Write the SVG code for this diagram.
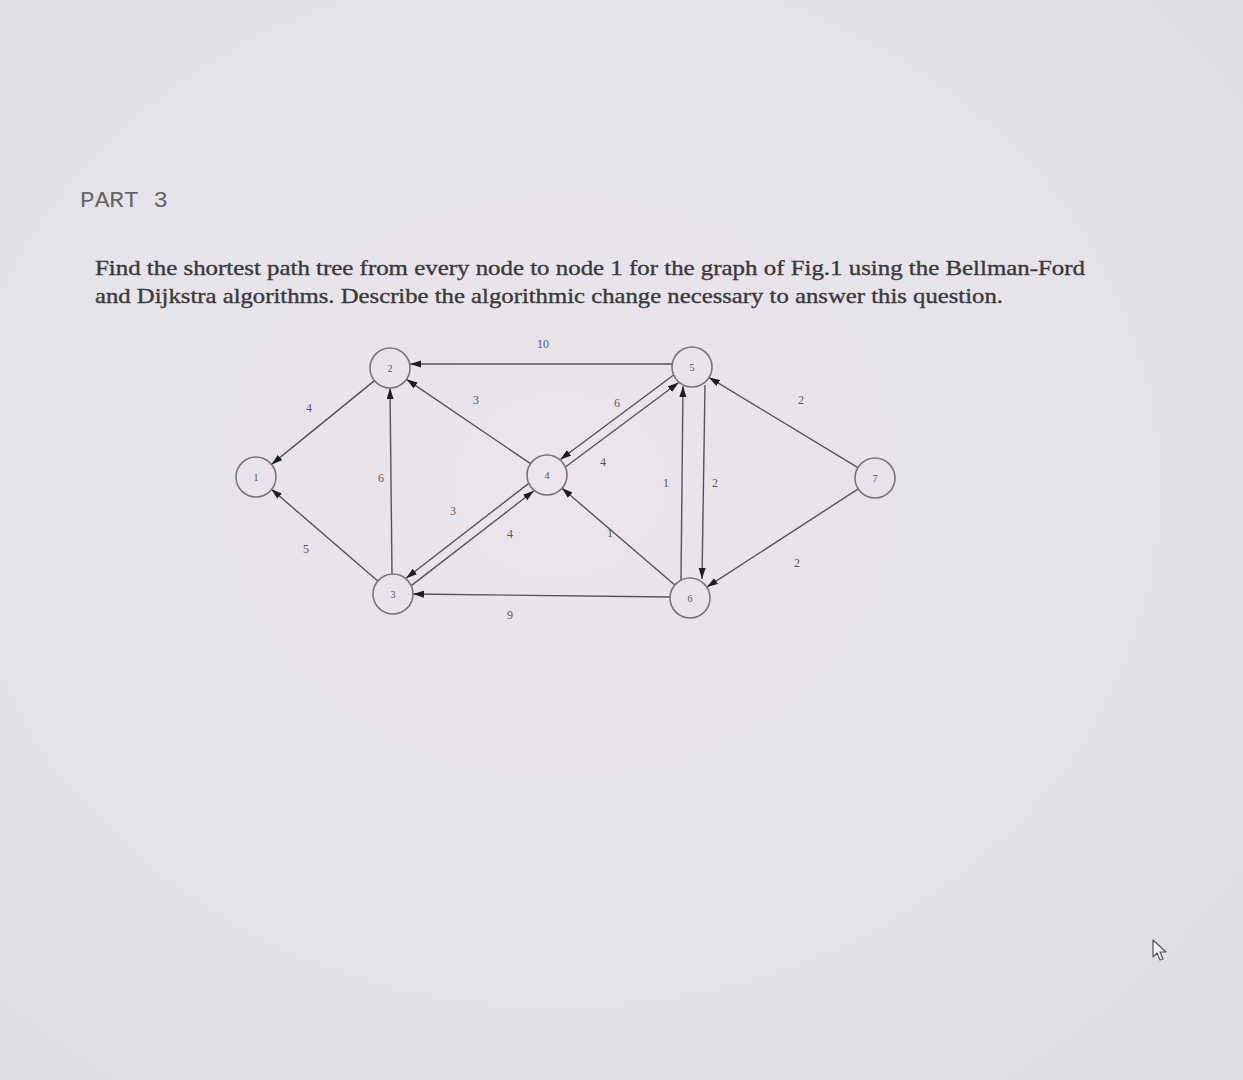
<svg xmlns="http://www.w3.org/2000/svg" width="1243" height="1080" viewBox="0 0 1243 1080">
  <defs>
    <radialGradient id="bg" cx="0.45" cy="0.45" r="0.7">
      <stop offset="0" stop-color="#ebe5ec"/>
      <stop offset="0.6" stop-color="#e6e3ea"/>
      <stop offset="1" stop-color="#dddde2"/>
    </radialGradient>
    <marker id="ah" markerUnits="userSpaceOnUse" markerWidth="12" markerHeight="8" refX="11" refY="3.5" orient="auto">
      <path d="M0,0 L11,3.5 L0,7 z" fill="#1e1e1e"/>
    </marker>
    <style>
      .e { stroke:#555; stroke-width:1.4; fill:none; marker-end:url(#ah); }
      .n circle { fill:none; stroke:#777; stroke-width:1.6; }
      .n text { font-family:"Liberation Serif",serif; font-size:10px; fill:#555; text-anchor:middle; }
      .w { font-family:"Liberation Serif",serif; font-size:12px; fill:#5a5a5a; text-anchor:middle; }
      .body { font-family:"Liberation Serif",serif; font-size:21px; fill:#3a3a3a; stroke:#3a3a3a; stroke-width:0.35; }
    </style>
  </defs>
  <rect x="0" y="0" width="1243" height="1080" fill="url(#bg)"/>

  <text x="80" y="207" font-family="Liberation Mono, monospace" font-size="22" fill="#666" textLength="88" lengthAdjust="spacingAndGlyphs">PART 3</text>
  <text class="body" x="95" y="275" textLength="990" lengthAdjust="spacingAndGlyphs">Find the shortest path tree from every node to node 1 for the graph of Fig.1 using the Bellman-Ford</text>
  <text class="body" x="95" y="303" textLength="908" lengthAdjust="spacingAndGlyphs">and Dijkstra algorithms. Describe the algorithmic change necessary to answer this question.</text>

  <g id="connectors">
    <line class="e" x1="374.5" y1="380.6" x2="271.5" y2="464.4"/>
    <line class="e" x1="377.8" y1="581.0" x2="271.2" y2="489.0"/>
    <line class="e" x1="392" y1="574" x2="390" y2="388"/>
    <line class="e" x1="530.5" y1="463.7" x2="406.5" y2="379.3"/>
    <line class="e" x1="673" y1="364" x2="410" y2="364"/>
    <line class="e" x1="528.4" y1="483.6" x2="406.1" y2="578.2"/>
    <line class="e" x1="411.6" y1="585.4" x2="533.9" y2="490.8"/>
    <line class="e" x1="673.3" y1="375.3" x2="560.3" y2="459.5"/>
    <line class="e" x1="565.7" y1="466.7" x2="678.7" y2="382.5"/>
    <line class="e" x1="674.8" y1="585.0" x2="561.8" y2="488.0"/>
    <line class="e" x1="670" y1="597" x2="413" y2="594"/>
    <line class="e" x1="681" y1="580" x2="683" y2="386"/>
    <line class="e" x1="705" y1="385" x2="702" y2="579"/>
    <line class="e" x1="857.9" y1="467.6" x2="708.9" y2="377.4"/>
    <line class="e" x1="858.2" y1="488.9" x2="706.8" y2="587.1"/>
  </g>

  <g id="weights">
    <text class="w" x="543" y="348">10</text>
    <text class="w" x="309" y="412">4</text>
    <text class="w" x="476" y="404">3</text>
    <text class="w" x="617" y="407">6</text>
    <text class="w" x="801" y="404">2</text>
    <text class="w" x="381" y="482">6</text>
    <text class="w" x="306" y="553">5</text>
    <text class="w" x="453" y="515">3</text>
    <text class="w" x="510" y="538">4</text>
    <text class="w" x="603" y="466">4</text>
    <text class="w" x="610" y="537">1</text>
    <text class="w" x="666" y="487">1</text>
    <text class="w" x="715" y="487">2</text>
    <text class="w" x="797" y="567">2</text>
    <text class="w" x="510" y="619">9</text>
  </g>

  <g id="node1" class="n"><circle cx="256" cy="477" r="20"/><text x="256" y="481">1</text></g>
  <g id="node2" class="n"><circle cx="390" cy="368" r="20"/><text x="390" y="372">2</text></g>
  <g id="node3" class="n"><circle cx="393" cy="594" r="20"/><text x="393" y="598">3</text></g>
  <g id="node4" class="n"><circle cx="547" cy="475" r="20"/><text x="547" y="479">4</text></g>
  <g id="node5" class="n"><circle cx="692" cy="367" r="20"/><text x="692" y="371">5</text></g>
  <g id="node6" class="n"><circle cx="690" cy="598" r="20"/><text x="690" y="602">6</text></g>
  <g id="node7" class="n"><circle cx="875" cy="478" r="20"/><text x="875" y="482">7</text></g>

  <polygon points="1153,940 1153,957 1157,953 1160,960 1163,959 1160,952 1166,952" fill="#f4f4f6" stroke="#555" stroke-width="1.2" stroke-linejoin="round"/>
</svg>
